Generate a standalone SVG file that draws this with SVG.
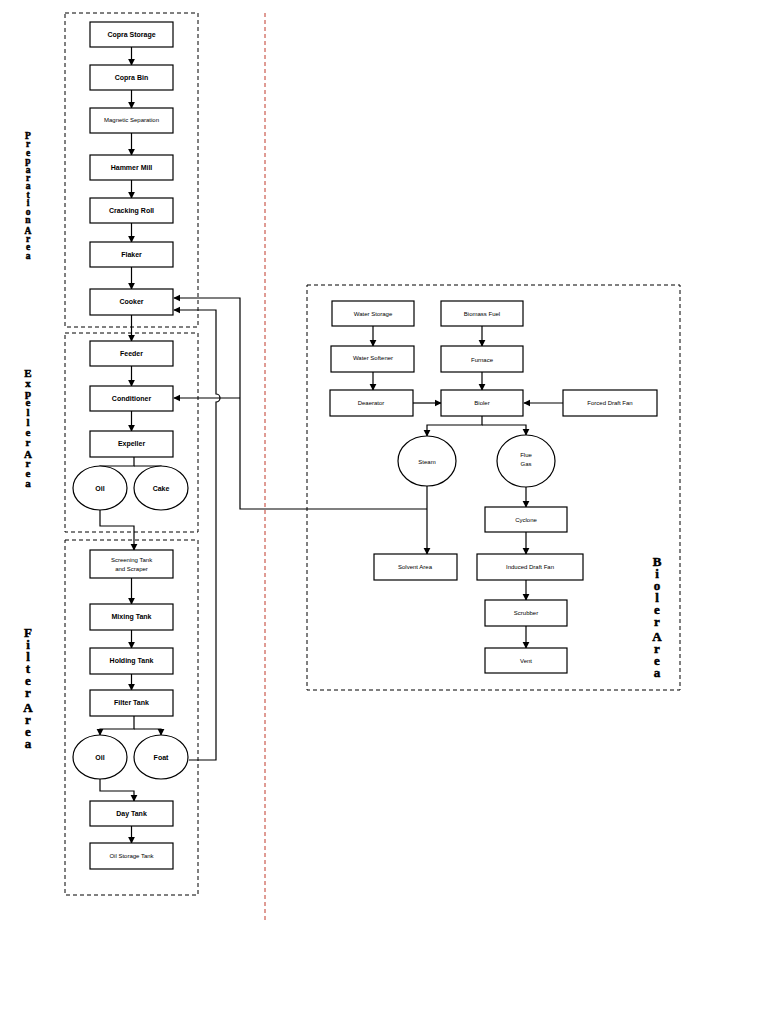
<svg xmlns="http://www.w3.org/2000/svg" width="768" height="1024" viewBox="0 0 768 1024">
<style>
.b{fill:#fff;stroke:#000;stroke-width:1.2}
.t{font-family:"Liberation Sans",Arial,sans-serif;font-size:7px;font-weight:bold;text-anchor:middle}
.s{font-weight:normal;font-size:6px}
.a{fill:none;stroke:#000;stroke-width:1.2}
.d{fill:none;stroke:#000;stroke-width:1;stroke-dasharray:4,3}
.v{font-family:"Liberation Serif","Times New Roman",serif;font-weight:900;text-anchor:middle;stroke:#000;stroke-width:0.5}
</style>
<defs><marker id="m" viewBox="0 0 10 10" refX="9" refY="5" markerWidth="6" markerHeight="6" orient="auto"><path d="M0,0L10,5L0,10z"/></marker></defs>
<rect width="768" height="1024" fill="#fff"/>
<line x1="265" y1="13" x2="265" y2="920" stroke="#c0392b" stroke-width="1" stroke-dasharray="4,3"/>
<g id="areas">
<rect class="d" x="65" y="13" width="133" height="314"/>
<rect class="d" x="65" y="333" width="133" height="199"/>
<rect class="d" x="65" y="540" width="133" height="355"/>
<rect class="d" x="307" y="285" width="373" height="405"/>
<text class="v" font-size="9.5"><tspan x="28" y="139">P</tspan><tspan x="28" dy="8.4">r</tspan><tspan x="28" dy="8.4">e</tspan><tspan x="28" dy="8.4">p</tspan><tspan x="28" dy="8.4">a</tspan><tspan x="28" dy="8.4">r</tspan><tspan x="28" dy="8.4">a</tspan><tspan x="28" dy="8.4">t</tspan><tspan x="28" dy="8.4">i</tspan><tspan x="28" dy="8.4">o</tspan><tspan x="28" dy="8.4">n</tspan><tspan x="28" dy="10.5">A</tspan><tspan x="28" dy="8.4">r</tspan><tspan x="28" dy="8.4">e</tspan><tspan x="28" dy="8.4">a</tspan></text>
<text class="v" font-size="11"><tspan x="28" y="377">E</tspan><tspan x="28" dy="9.8">x</tspan><tspan x="28" dy="9.8">p</tspan><tspan x="28" dy="9.8">e</tspan><tspan x="28" dy="9.8">l</tspan><tspan x="28" dy="9.8">l</tspan><tspan x="28" dy="9.8">e</tspan><tspan x="28" dy="9.8">r</tspan><tspan x="28" dy="12">A</tspan><tspan x="28" dy="9.8">r</tspan><tspan x="28" dy="9.8">e</tspan><tspan x="28" dy="9.8">a</tspan></text>
<text class="v" font-size="13"><tspan x="28" y="637">F</tspan><tspan x="28" dy="12">i</tspan><tspan x="28" dy="12">l</tspan><tspan x="28" dy="12">t</tspan><tspan x="28" dy="12">e</tspan><tspan x="28" dy="12">r</tspan><tspan x="28" dy="15">A</tspan><tspan x="28" dy="12">r</tspan><tspan x="28" dy="12">e</tspan><tspan x="28" dy="12">a</tspan></text>
<text class="v" font-size="13"><tspan x="657" y="566">B</tspan><tspan x="657" dy="12">i</tspan><tspan x="657" dy="12">o</tspan><tspan x="657" dy="12">l</tspan><tspan x="657" dy="12">e</tspan><tspan x="657" dy="12">r</tspan><tspan x="657" dy="15">A</tspan><tspan x="657" dy="12">r</tspan><tspan x="657" dy="12">e</tspan><tspan x="657" dy="12">a</tspan></text>
</g>
<g id="connectors" class="a" marker-end="url(#m)">
<path class="a" marker-end="url(#m)" d="M131.5,47V65"/>
<path class="a" marker-end="url(#m)" d="M131.5,90V108"/>
<path class="a" marker-end="url(#m)" d="M131.5,133V155"/>
<path class="a" marker-end="url(#m)" d="M131.5,180V198"/>
<path class="a" marker-end="url(#m)" d="M131.5,223V242"/>
<path class="a" marker-end="url(#m)" d="M131.5,267V289"/>
<path class="a" marker-end="url(#m)" d="M131.5,315V341"/>
<path class="a" marker-end="url(#m)" d="M131.5,366V386"/>
<path class="a" marker-end="url(#m)" d="M131.5,411V431"/>
<path class="a" marker-end="url(#m)" d="M134,457V466H100V474"/>
<path class="a" marker-end="url(#m)" d="M134,466H161V474"/>
<path class="a" marker-end="url(#m)" d="M100,510V526H134V550"/>
<path class="a" marker-end="url(#m)" d="M131.5,578V604"/>
<path class="a" marker-end="url(#m)" d="M131.5,630V648"/>
<path class="a" marker-end="url(#m)" d="M131.5,674V690"/>
<path class="a" marker-end="url(#m)" d="M134,716V729H100V735"/>
<path class="a" marker-end="url(#m)" d="M134,729H161V735"/>
<path class="a" marker-end="url(#m)" d="M100,779V791H134V801"/>
<path class="a" marker-end="url(#m)" d="M131.5,826V843"/>
<path class="a" marker-end="url(#m)" d="M427,486V554"/>
<path class="a" marker-end="url(#m)" d="M427,509H240V298H174"/>
<path class="a" marker-end="url(#m)" d="M240,398H174"/>
<path class="a" marker-end="url(#m)" d="M189,760H216V402A4,4 0 0 0 216,394V310H174"/>
<path class="a" marker-end="url(#m)" d="M373,326V346"/>
<path class="a" marker-end="url(#m)" d="M373,372V390"/>
<path class="a" marker-end="url(#m)" d="M482,326V346"/>
<path class="a" marker-end="url(#m)" d="M482,372V390"/>
<path class="a" marker-end="url(#m)" d="M413,403H441"/>
<path class="a" marker-end="url(#m)" d="M563,403H524"/>
<path class="a" marker-end="url(#m)" d="M526,487V507"/>
<path class="a" marker-end="url(#m)" d="M526,532V554"/>
<path class="a" marker-end="url(#m)" d="M526,580V600"/>
<path class="a" marker-end="url(#m)" d="M526,626V648"/>
<path class="a" marker-end="url(#m)" d="M482,416V425H427V436"/>
<path class="a" marker-end="url(#m)" d="M482,425H526V435"/>
</g>
<g id="n1"><rect class="b" x="90" y="22" width="83" height="25"/><text class="t" x="131.5" y="37">Copra Storage</text></g>
<g id="n2"><rect class="b" x="90" y="65" width="83" height="25"/><text class="t" x="131.5" y="80">Copra Bin</text></g>
<g id="n3"><rect class="b" x="90" y="108" width="83" height="25"/><text class="t s" x="131.5" y="122" font-size="5">Magnetic Separation</text></g>
<g id="n4"><rect class="b" x="90" y="155" width="83" height="25"/><text class="t" x="131.5" y="170">Hammer Mill</text></g>
<g id="n5"><rect class="b" x="90" y="198" width="83" height="25"/><text class="t" x="131.5" y="213">Cracking Roll</text></g>
<g id="n6"><rect class="b" x="90" y="242" width="83" height="25"/><text class="t" x="131.5" y="257">Flaker</text></g>
<g id="n7"><rect class="b" x="90" y="289" width="83" height="26"/><text class="t" x="131.5" y="304">Cooker</text></g>
<g id="n8"><rect class="b" x="90" y="341" width="83" height="25"/><text class="t" x="131.5" y="356">Feeder</text></g>
<g id="n9"><rect class="b" x="90" y="386" width="83" height="25"/><text class="t" x="131.5" y="401">Conditioner</text></g>
<g id="n10"><rect class="b" x="90" y="431" width="83" height="26"/><text class="t" x="131.5" y="446">Expeller</text></g>
<g id="n11"><ellipse class="b" cx="100" cy="488" rx="27" ry="22"/><text class="t" x="100" y="491">Oil</text></g>
<g id="n12"><ellipse class="b" cx="161" cy="488" rx="27" ry="22"/><text class="t" x="161" y="491">Cake</text></g>
<g id="n13"><rect class="b" x="90" y="550" width="83" height="28"/><text class="t s" x="131.5" y="562">Screening Tank</text><text class="t s" x="131.5" y="571">and Scraper</text></g>
<g id="n14"><rect class="b" x="90" y="604" width="83" height="26"/><text class="t" x="131.5" y="619">Mixing Tank</text></g>
<g id="n15"><rect class="b" x="90" y="648" width="83" height="26"/><text class="t" x="131.5" y="663">Holding Tank</text></g>
<g id="n16"><rect class="b" x="90" y="690" width="83" height="26"/><text class="t" x="131.5" y="705">Filter Tank</text></g>
<g id="n17"><ellipse class="b" cx="100" cy="757" rx="27" ry="22"/><text class="t" x="100" y="760">Oil</text></g>
<g id="n18"><ellipse class="b" cx="161" cy="757" rx="27" ry="22"/><text class="t" x="161" y="760">Foat</text></g>
<g id="n19"><rect class="b" x="90" y="801" width="83" height="25"/><text class="t" x="131.5" y="816">Day Tank</text></g>
<g id="n20"><rect class="b" x="90" y="843" width="83" height="26"/><text class="t s" x="131.5" y="858">Oil Storage Tank</text></g>
<g id="b1"><rect class="b" x="332" y="301" width="82" height="25"/><text class="t s" x="373" y="316">Water Storage</text></g>
<g id="b2"><rect class="b" x="441" y="301" width="82" height="25"/><text class="t s" x="482" y="316">Biomass Fuel</text></g>
<g id="b3"><rect class="b" x="331" y="346" width="83" height="26"/><text class="t s" x="373" y="360">Water Softener</text></g>
<g id="b4"><rect class="b" x="441" y="346" width="82" height="26"/><text class="t s" x="482" y="362">Furnace</text></g>
<g id="b5"><rect class="b" x="330" y="390" width="83" height="26"/><text class="t s" x="371" y="405">Deaerator</text></g>
<g id="b6"><rect class="b" x="441" y="390" width="82" height="26"/><text class="t s" x="482" y="405">Bioler</text></g>
<g id="b7"><rect class="b" x="563" y="390" width="94" height="26"/><text class="t s" x="610" y="405">Forced Draft Fan</text></g>
<g id="b8"><ellipse class="b" cx="427" cy="461" rx="29" ry="25"/><text class="t s" x="427" y="464">Steam</text></g>
<g id="b9"><ellipse class="b" cx="526" cy="461" rx="29" ry="26"/><text class="t s" x="526" y="457">Flue</text><text class="t s" x="526" y="466">Gas</text></g>
<g id="b10"><rect class="b" x="485" y="507" width="82" height="25"/><text class="t s" x="526" y="522">Cyclone</text></g>
<g id="b11"><rect class="b" x="374" y="554" width="83" height="26"/><text class="t s" x="415" y="569">Solvent Area</text></g>
<g id="b12"><rect class="b" x="477" y="554" width="106" height="26"/><text class="t s" x="530" y="569">Induced Draft Fan</text></g>
<g id="b13"><rect class="b" x="485" y="600" width="82" height="26"/><text class="t s" x="526" y="615">Scrubber</text></g>
<g id="b14"><rect class="b" x="485" y="648" width="82" height="25"/><text class="t s" x="526" y="663">Vent</text></g>
</svg>
